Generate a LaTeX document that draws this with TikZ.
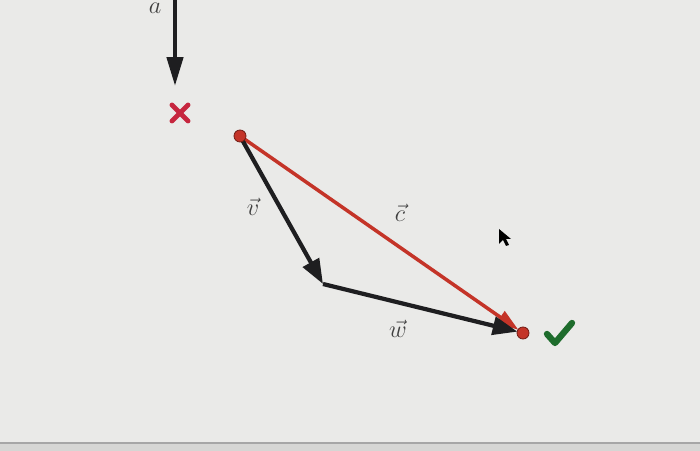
\documentclass[tikz,border=0pt]{standalone}
\usepackage{amsmath}
\usetikzlibrary{arrows.meta}
\definecolor{screen}{RGB}{234,234,232}
\definecolor{bezel}{RGB}{214,214,212}
\definecolor{vecred}{RGB}{196,52,40}
\definecolor{vecblack}{RGB}{30,30,32}
\definecolor{okgreen}{RGB}{30,108,44}
\definecolor{badred}{RGB}{198,38,62}
\tikzset{
  vec/.style={vecblack, line width=3pt, -{Triangle[length=0.62cm,width=0.45cm]}},
  redvec/.style={vecred, line width=2.5pt, -{Triangle[length=0.55cm,width=0.36cm]}},
  dot/.style={circle, fill=vecred, draw=vecred!60!black, line width=0.6pt, inner sep=0pt, minimum size=0.3cm},
  lab/.style={font=\LARGE, text=black!75}
}
\begin{document}
\begin{tikzpicture}[x=0.025cm,y=-0.025cm]
    \useasboundingbox (0,0) rectangle (700,451);
    \clip (0,0) rectangle (700,451);
    \fill[screen] (0,0) rectangle (700,451);
    \fill[bezel] (0,443) rectangle (700,451);
    \draw[gray!70, line width=0.8pt] (0,443) -- (700,443);

    % vector a (cut off at the top)
    \coordinate (atop) at (175,-10);
    \coordinate (atip) at (175,86);
    \draw[vec, -{Triangle[length=0.72cm,width=0.4cm]}] (atop) -- (atip);
    \node[lab] (alab) at (155,8) {$a$};

    % wrong answer mark
    \coordinate (x) at (180,113);
    \draw[badred, line width=3.5pt, line cap=round] ([shift={(-8,-8)}]x) -- ([shift={(8,8)}]x);
    \draw[badred, line width=3.5pt, line cap=round] ([shift={(-8,8)}]x) -- ([shift={(8,-8)}]x);

    % triangle of vectors
    \coordinate (p) at (240,136);
    \coordinate (q) at (323,284);
    \coordinate (r) at (523,333);

    \draw[redvec, shorten >=4pt] (p) -- (r);
    \draw[vec] (p) -- (q);
    \draw[vec, shorten >=4pt] (q) -- (r);
    \node[dot] (pdot) at (p) {};
    \node[dot] (rdot) at (r) {};

    \node[lab] (vlab) at (253,207) {$\vec{v}$};
    \node[lab] (clab) at (400,213) {$\vec{c}$};
    \node[lab] (wlab) at (398,329) {$\vec{w}$};

    % right answer mark
    \draw[okgreen, line width=4.5pt, line cap=round, line join=round] (547,334) -- (555,343) -- (572,323);

    % mouse pointer
    \fill[black] (499,229) -- (499,244) -- (503,240) -- (506,246) -- (509,245) -- (506,239) -- (511,239) -- cycle;
\end{tikzpicture}
\end{document}
